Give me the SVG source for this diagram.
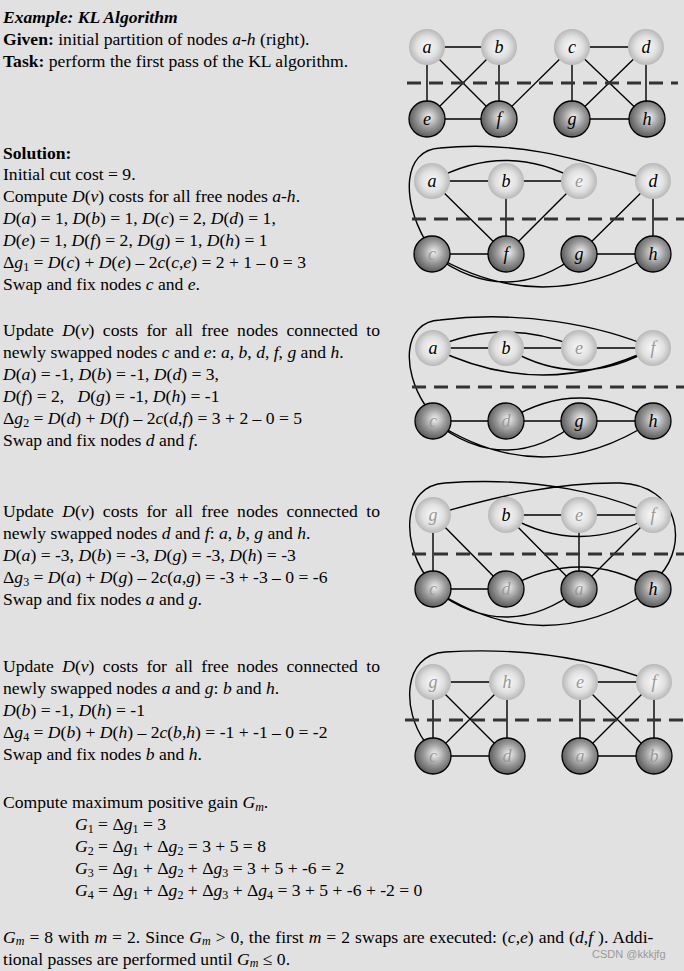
<svg xmlns="http://www.w3.org/2000/svg" width="684" height="971" viewBox="0 0 684 971">
<style>
.t{font-family:"Liberation Serif",serif;font-size:17.6px;fill:#000}
.i{font-style:italic}.b{font-weight:bold}
.e{stroke:#000;stroke-width:1.4;fill:none}
.d{stroke:#333;stroke-width:3;stroke-dasharray:14 8}
.lt{fill:url(#gl)}.dk{fill:url(#gd);stroke:#000;stroke-width:1.3}
.lb{font-family:"Liberation Serif",serif;font-style:italic;font-size:18px;text-anchor:middle;fill:#000}
.fx{fill:#999}
</style>
<defs>
<radialGradient id="gl" cx="0.5" cy="0.5" r="0.5"><stop offset="0" stop-color="#fafafa"/><stop offset="0.6" stop-color="#e0e0e0"/><stop offset="1" stop-color="#b8b8b8"/></radialGradient>
<radialGradient id="gd" cx="0.55" cy="0.45" r="0.6"><stop offset="0" stop-color="#f2f2f2"/><stop offset="0.5" stop-color="#9a9a9a"/><stop offset="1" stop-color="#505050"/></radialGradient>
</defs>
<rect width="684" height="971" fill="#e1e1e1"/>

<g id="text" class="t">
<text x="3" y="23" class="b i">Example: KL Algorithm</text>
<text x="3" y="45"><tspan class="b">Given:</tspan> initial partition of nodes <tspan class="i">a-h</tspan> (right).</text>
<text x="3" y="67"><tspan class="b">Task:</tspan> perform the first pass of the KL algorithm.</text>
<text x="3" y="159" class="b">Solution:</text>
<text x="3" y="180">Initial cut cost = 9.</text>
<text x="3" y="202">Compute <tspan class="i">D</tspan>(<tspan class="i">v</tspan>) costs for all free nodes <tspan class="i">a-h</tspan>.</text>
<text x="3" y="224"><tspan class="i">D</tspan>(<tspan class="i">a</tspan>) = 1, <tspan class="i">D</tspan>(<tspan class="i">b</tspan>) = 1, <tspan class="i">D</tspan>(<tspan class="i">c</tspan>) = 2, <tspan class="i">D</tspan>(<tspan class="i">d</tspan>) = 1,</text>
<text x="3" y="246"><tspan class="i">D</tspan>(<tspan class="i">e</tspan>) = 1, <tspan class="i">D</tspan>(<tspan class="i">f</tspan>) = 2, <tspan class="i">D</tspan>(<tspan class="i">g</tspan>) = 1, <tspan class="i">D</tspan>(<tspan class="i">h</tspan>) = 1</text>
<text x="3" y="268">Δ<tspan class="i">g</tspan><tspan font-size="12" baseline-shift="-3">1</tspan> = <tspan class="i">D</tspan>(<tspan class="i">c</tspan>) + <tspan class="i">D</tspan>(<tspan class="i">e</tspan>) – 2<tspan class="i">c</tspan>(<tspan class="i">c</tspan>,<tspan class="i">e</tspan>) = 2 + 1 – 0 = 3</text>
<text x="3" y="290">Swap and fix nodes <tspan class="i">c</tspan> and <tspan class="i">e</tspan>.</text>

<text x="3" y="336" word-spacing="4">Update <tspan class="i">D</tspan>(<tspan class="i">v</tspan>) costs for all free nodes connected to</text>
<text x="3" y="358">newly swapped nodes <tspan class="i">c</tspan> and <tspan class="i">e</tspan>: <tspan class="i">a</tspan>, <tspan class="i">b</tspan>, <tspan class="i">d</tspan>, <tspan class="i">f</tspan>, <tspan class="i">g</tspan> and <tspan class="i">h</tspan>.</text>
<text x="3" y="380"><tspan class="i">D</tspan>(<tspan class="i">a</tspan>) = -1, <tspan class="i">D</tspan>(<tspan class="i">b</tspan>) = -1, <tspan class="i">D</tspan>(<tspan class="i">d</tspan>) = 3,</text>
<text x="3" y="402" xml:space="preserve"><tspan class="i">D</tspan>(<tspan class="i">f</tspan>) = 2,   <tspan class="i">D</tspan>(<tspan class="i">g</tspan>) = -1, <tspan class="i">D</tspan>(<tspan class="i">h</tspan>) = -1</text>
<text x="3" y="424">Δ<tspan class="i">g</tspan><tspan font-size="12" baseline-shift="-3">2</tspan> = <tspan class="i">D</tspan>(<tspan class="i">d</tspan>) + <tspan class="i">D</tspan>(<tspan class="i">f</tspan>) – 2<tspan class="i">c</tspan>(<tspan class="i">d</tspan>,<tspan class="i">f</tspan>) = 3 + 2 – 0 = 5</text>
<text x="3" y="446">Swap and fix nodes <tspan class="i">d</tspan> and <tspan class="i">f</tspan>.</text>

<text x="3" y="517" word-spacing="4">Update <tspan class="i">D</tspan>(<tspan class="i">v</tspan>) costs for all free nodes connected to</text>
<text x="3" y="539">newly swapped nodes <tspan class="i">d</tspan> and <tspan class="i">f</tspan>: <tspan class="i">a</tspan>, <tspan class="i">b</tspan>, <tspan class="i">g</tspan> and <tspan class="i">h</tspan>.</text>
<text x="3" y="561"><tspan class="i">D</tspan>(<tspan class="i">a</tspan>) = -3, <tspan class="i">D</tspan>(<tspan class="i">b</tspan>) = -3, <tspan class="i">D</tspan>(<tspan class="i">g</tspan>) = -3, <tspan class="i">D</tspan>(<tspan class="i">h</tspan>) = -3</text>
<text x="3" y="583">Δ<tspan class="i">g</tspan><tspan font-size="12" baseline-shift="-3">3</tspan> = <tspan class="i">D</tspan>(<tspan class="i">a</tspan>) + <tspan class="i">D</tspan>(<tspan class="i">g</tspan>) – 2<tspan class="i">c</tspan>(<tspan class="i">a</tspan>,<tspan class="i">g</tspan>) = -3 + -3 – 0 = -6</text>
<text x="3" y="605">Swap and fix nodes <tspan class="i">a</tspan> and <tspan class="i">g</tspan>.</text>

<text x="3" y="672" word-spacing="4">Update <tspan class="i">D</tspan>(<tspan class="i">v</tspan>) costs for all free nodes connected to</text>
<text x="3" y="694">newly swapped nodes <tspan class="i">a</tspan> and <tspan class="i">g</tspan>: <tspan class="i">b</tspan> and <tspan class="i">h</tspan>.</text>
<text x="3" y="716"><tspan class="i">D</tspan>(<tspan class="i">b</tspan>) = -1, <tspan class="i">D</tspan>(<tspan class="i">h</tspan>) = -1</text>
<text x="3" y="738">Δ<tspan class="i">g</tspan><tspan font-size="12" baseline-shift="-3">4</tspan> = <tspan class="i">D</tspan>(<tspan class="i">b</tspan>) + <tspan class="i">D</tspan>(<tspan class="i">h</tspan>) – 2<tspan class="i">c</tspan>(<tspan class="i">b</tspan>,<tspan class="i">h</tspan>) = -1 + -1 – 0 = -2</text>
<text x="3" y="760">Swap and fix nodes <tspan class="i">b</tspan> and <tspan class="i">h</tspan>.</text>

<text x="3" y="808">Compute maximum positive gain <tspan class="i">G</tspan><tspan class="i" font-size="12" baseline-shift="-3">m</tspan>.</text>
<text x="75" y="830"><tspan class="i">G</tspan><tspan font-size="12" baseline-shift="-3">1</tspan> = Δ<tspan class="i">g</tspan><tspan font-size="12" baseline-shift="-3">1</tspan> = 3</text>
<text x="75" y="852"><tspan class="i">G</tspan><tspan font-size="12" baseline-shift="-3">2</tspan> = Δ<tspan class="i">g</tspan><tspan font-size="12" baseline-shift="-3">1</tspan> + Δ<tspan class="i">g</tspan><tspan font-size="12" baseline-shift="-3">2</tspan> = 3 + 5 = 8</text>
<text x="75" y="874"><tspan class="i">G</tspan><tspan font-size="12" baseline-shift="-3">3</tspan> = Δ<tspan class="i">g</tspan><tspan font-size="12" baseline-shift="-3">1</tspan> + Δ<tspan class="i">g</tspan><tspan font-size="12" baseline-shift="-3">2</tspan> + Δ<tspan class="i">g</tspan><tspan font-size="12" baseline-shift="-3">3</tspan> = 3 + 5 + -6 = 2</text>
<text x="75" y="896"><tspan class="i">G</tspan><tspan font-size="12" baseline-shift="-3">4</tspan> = Δ<tspan class="i">g</tspan><tspan font-size="12" baseline-shift="-3">1</tspan> + Δ<tspan class="i">g</tspan><tspan font-size="12" baseline-shift="-3">2</tspan> + Δ<tspan class="i">g</tspan><tspan font-size="12" baseline-shift="-3">3</tspan> + Δ<tspan class="i">g</tspan><tspan font-size="12" baseline-shift="-3">4</tspan> = 3 + 5 + -6 + -2 = 0</text>
<text x="3" y="943" word-spacing="0.6"><tspan class="i">G</tspan><tspan class="i" font-size="12" baseline-shift="-2">m</tspan> = 8 with <tspan class="i">m</tspan> = 2. Since <tspan class="i">G</tspan><tspan class="i" font-size="12" baseline-shift="-2">m</tspan> &gt; 0, the first <tspan class="i">m</tspan> = 2 swaps are executed: (<tspan class="i">c</tspan>,<tspan class="i">e</tspan>) and (<tspan class="i">d</tspan>,<tspan class="i">f</tspan> ). Addi-</text>
<text x="3" y="965">tional passes are performed until <tspan class="i">G</tspan><tspan class="i" font-size="12" baseline-shift="-2">m</tspan> ≤ 0.</text>
<text x="592" y="958" font-family="Liberation Sans,sans-serif" font-size="11" fill="#999">CSDN @kkkjfg</text>
</g>

<g id="connectors">
<path class="e" d="M427,47H499M427,47V119M427,47L499,119M499,47L427,119M499,47V119M427,119H499M572,47L499,119M572,47H646M572,47V119M572,47L647,119M646,47L572,119M646,47V119M572,119H647"/>
<line class="d" x1="407" y1="83" x2="678" y2="83"/>
<path class="e" d="M432,181H579M432,181L506,254M506,181V254M579,181L506,254M432,254H506M579,254H653M653,181L579,254M653,181V254"/>
<path class="e" d="M432,181Q506,140 579,181M425,240C402,200 402,150 440,148C520,140 580,160 653,181M432,254Q506,310 579,254M432,254Q543,320 653,254"/>
<line class="d" x1="412" y1="219" x2="684" y2="219"/>
<path class="e" d="M433,348H653M433,421H653"/>
<path class="e" d="M433,348Q506,316 579,348M433,348Q543,402 653,348M506,348Q580,392 653,348M425,405C402,370 402,322 440,320C520,310 600,325 653,348M506,421Q580,375 653,421M433,421Q506,479 579,421M433,421Q543,493 653,421"/>
<line class="d" x1="412" y1="387" x2="684" y2="387"/>
<path class="e" d="M506,515H653M433,515V589M433,515L506,589M506,515L579,589M579,515V589M653,515L579,589M433,589H506"/>
<path class="e" d="M425,575C402,540 402,486 445,483C540,476 610,495 653,515M433,515C500,495 560,482 620,483C680,485 688,545 660,575M506,515Q580,558 653,515M506,589Q580,545 653,589M433,589Q506,645 579,589M433,589Q543,662 653,589"/>
<line class="d" x1="412" y1="554" x2="684" y2="554"/>
<path class="e" d="M433,682H507M433,682V756M433,682L507,756M507,682L433,756M507,682V756M433,756H507M580,682H654M580,682V756M580,682L654,756M654,682L580,756M654,682V756M580,756H654"/>
<path class="e" d="M425,742C402,710 402,655 445,652C540,646 610,665 654,682"/>
<line class="d" x1="405" y1="720" x2="684" y2="720"/>
</g>

<g id="graph1">
<g id="n1a"><circle class="lt" cx="427" cy="47" r="18"/><text class="lb" x="427" y="53">a</text></g>
<g id="n1b"><circle class="lt" cx="499" cy="47" r="18"/><text class="lb" x="499" y="53">b</text></g>
<g id="n1c"><circle class="lt" cx="572" cy="47" r="18"/><text class="lb" x="572" y="53">c</text></g>
<g id="n1d"><circle class="lt" cx="646" cy="47" r="18"/><text class="lb" x="646" y="53">d</text></g>
<g id="n1e"><circle class="dk" cx="427" cy="119" r="18"/><text class="lb" x="427" y="125">e</text></g>
<g id="n1f"><circle class="dk" cx="499" cy="119" r="18"/><text class="lb" x="499" y="125">f</text></g>
<g id="n1g"><circle class="dk" cx="572" cy="119" r="18"/><text class="lb" x="572" y="125">g</text></g>
<g id="n1h"><circle class="dk" cx="647" cy="119" r="18"/><text class="lb" x="647" y="125">h</text></g>
</g>
<g id="graph2">
<g id="n2a"><circle class="lt" cx="432" cy="181" r="18"/><text class="lb" x="432" y="187">a</text></g>
<g id="n2b"><circle class="lt" cx="506" cy="181" r="18"/><text class="lb" x="506" y="187">b</text></g>
<g id="n2e"><circle class="lt" cx="579" cy="181" r="18"/><text class="lb fx" x="579" y="187">e</text></g>
<g id="n2d"><circle class="lt" cx="653" cy="181" r="18"/><text class="lb" x="653" y="187">d</text></g>
<g id="n2c"><circle class="dk" cx="432" cy="254" r="18"/><text class="lb fx" x="432" y="260">c</text></g>
<g id="n2f"><circle class="dk" cx="506" cy="254" r="18"/><text class="lb" x="506" y="260">f</text></g>
<g id="n2g"><circle class="dk" cx="579" cy="254" r="18"/><text class="lb" x="579" y="260">g</text></g>
<g id="n2h"><circle class="dk" cx="653" cy="254" r="18"/><text class="lb" x="653" y="260">h</text></g>
</g>
<g id="graph3">
<g id="n3a"><circle class="lt" cx="433" cy="348" r="18"/><text class="lb" x="433" y="354">a</text></g>
<g id="n3b"><circle class="lt" cx="506" cy="348" r="18"/><text class="lb" x="506" y="354">b</text></g>
<g id="n3e"><circle class="lt" cx="579" cy="348" r="18"/><text class="lb fx" x="579" y="354">e</text></g>
<g id="n3f"><circle class="lt" cx="653" cy="348" r="18"/><text class="lb fx" x="653" y="354">f</text></g>
<g id="n3c"><circle class="dk" cx="433" cy="421" r="18"/><text class="lb fx" x="433" y="427">c</text></g>
<g id="n3d"><circle class="dk" cx="506" cy="421" r="18"/><text class="lb fx" x="506" y="427">d</text></g>
<g id="n3g"><circle class="dk" cx="579" cy="421" r="18"/><text class="lb" x="579" y="427">g</text></g>
<g id="n3h"><circle class="dk" cx="653" cy="421" r="18"/><text class="lb" x="653" y="427">h</text></g>
</g>
<g id="graph4">
<g id="n4g"><circle class="lt" cx="433" cy="515" r="18"/><text class="lb fx" x="433" y="521">g</text></g>
<g id="n4b"><circle class="lt" cx="506" cy="515" r="18"/><text class="lb" x="506" y="521">b</text></g>
<g id="n4e"><circle class="lt" cx="579" cy="515" r="18"/><text class="lb fx" x="579" y="521">e</text></g>
<g id="n4f"><circle class="lt" cx="653" cy="515" r="18"/><text class="lb fx" x="653" y="521">f</text></g>
<g id="n4c"><circle class="dk" cx="433" cy="589" r="18"/><text class="lb fx" x="433" y="595">c</text></g>
<g id="n4d"><circle class="dk" cx="506" cy="589" r="18"/><text class="lb fx" x="506" y="595">d</text></g>
<g id="n4a"><circle class="dk" cx="579" cy="589" r="18"/><text class="lb fx" x="579" y="595">a</text></g>
<g id="n4h"><circle class="dk" cx="653" cy="589" r="18"/><text class="lb" x="653" y="595">h</text></g>
</g>
<g id="graph5">
<g id="n5g"><circle class="lt" cx="433" cy="682" r="18"/><text class="lb fx" x="433" y="688">g</text></g>
<g id="n5h"><circle class="lt" cx="507" cy="682" r="18"/><text class="lb fx" x="507" y="688">h</text></g>
<g id="n5e"><circle class="lt" cx="580" cy="682" r="18"/><text class="lb fx" x="580" y="688">e</text></g>
<g id="n5f"><circle class="lt" cx="654" cy="682" r="18"/><text class="lb fx" x="654" y="688">f</text></g>
<g id="n5c"><circle class="dk" cx="433" cy="756" r="18"/><text class="lb fx" x="433" y="762">c</text></g>
<g id="n5d"><circle class="dk" cx="507" cy="756" r="18"/><text class="lb fx" x="507" y="762">d</text></g>
<g id="n5a"><circle class="dk" cx="580" cy="756" r="18"/><text class="lb fx" x="580" y="762">a</text></g>
<g id="n5b"><circle class="dk" cx="654" cy="756" r="18"/><text class="lb fx" x="654" y="762">b</text></g>
</g>
</svg>
